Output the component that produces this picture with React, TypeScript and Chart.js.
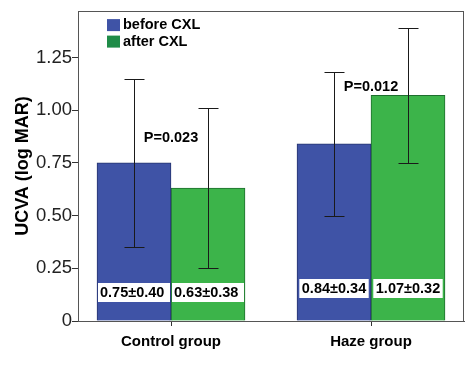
import React, { useEffect, useRef } from "react";
import { Chart, registerables } from "chart.js";

Chart.register(...registerables);

const categories = ["Control group", "Haze group"];
const seriesNames = ["before CXL", "after CXL"];
const beforeMeans = [0.75, 0.84];
const beforeSD = [0.4, 0.34];
const afterMeans = [0.63, 1.07];
const afterSD = [0.38, 0.32];
const pValues = ["P=0.023", "P=0.012"];
const pValueAt = [0.87, 1.11];
const yTicks = [0, 0.25, 0.5, 0.75, 1.0, 1.25];

const BLUE = "#3f53a6";
const GREEN = "#3cb44a";
const FONT = "'Liberation Sans', Arial, sans-serif";

export default function App() {
  const ref = useRef<HTMLCanvasElement | null>(null);

  useEffect(() => {
    document.body.style.margin = "0";
    const canvas = ref.current;
    if (!canvas) return;

    const means = [beforeMeans, afterMeans];
    const sds = [beforeSD, afterSD];

    const overlay = {
      id: "overlay",
      afterDatasetsDraw(chart: any) {
        const ctx = chart.ctx;
        const ys = chart.scales.y;
        const area = chart.chartArea;
        ctx.save();
        // error bars
        ctx.strokeStyle = "#1a1a1a";
        ctx.lineWidth = 1;
        for (let d = 0; d < 2; d++) {
          const meta = chart.getDatasetMeta(d);
          meta.data.forEach((bar: any, j: number) => {
            const x = Math.round(bar.x) + 0.5;
            const top = Math.round(ys.getPixelForValue(means[d][j] + sds[d][j])) + 0.5;
            const bot = Math.round(ys.getPixelForValue(means[d][j] - sds[d][j])) + 0.5;
            ctx.beginPath();
            ctx.moveTo(x, top);
            ctx.lineTo(x, bot);
            ctx.moveTo(x - 10, top);
            ctx.lineTo(x + 10, top);
            ctx.moveTo(x - 10, bot);
            ctx.lineTo(x + 10, bot);
            ctx.stroke();
          });
        }
        // value label boxes
        ctx.font = `bold 14.5px ${FONT}`;
        ctx.textBaseline = "middle";
        ctx.textAlign = "center";
        const boxOffset = [28.5, 32.5];
        for (let d = 0; d < 2; d++) {
          const meta = chart.getDatasetMeta(d);
          meta.data.forEach((bar: any, j: number) => {
            const txt = `${means[d][j].toFixed(2)}±${sds[d][j].toFixed(2)}`;
            const tw = ctx.measureText(txt).width;
            const cy = area.bottom - boxOffset[j];
            let bw: number;
            if (j === 0) bw = bar.width - 2;
            else bw = tw + 5;
            ctx.fillStyle = "#ffffff";
            ctx.fillRect(bar.x - bw / 2, cy - 9.5, bw, 19);
            ctx.fillStyle = "#000000";
            const tx = j === 0 ? bar.x - bw / 2 + 2 + tw / 2 : bar.x;
            ctx.fillText(txt, tx, cy + 0.5);
          });
        }
        // p-values
        const xs = chart.scales.x;
        categories.forEach((_, j) => {
          ctx.fillStyle = "#000";
          ctx.fillText(pValues[j], xs.getPixelForValue(j), ys.getPixelForValue(pValueAt[j]));
        });
        // legend
        const legendColors = [BLUE, "#1f8c48"];
        ctx.textAlign = "left";
        seriesNames.forEach((name, i) => {
          const cy = area.top + 14 + i * 16.5;
          ctx.fillStyle = legendColors[i];
          ctx.fillRect(area.left + 29, cy - 6, 13, 12);
          ctx.fillStyle = "#000";
          ctx.fillText(name, area.left + 45, cy);
        });
        // frame
        ctx.strokeStyle = "#555";
        ctx.lineWidth = 1;
        ctx.strokeRect(
          Math.round(area.left) + 0.5,
          Math.round(area.top) + 0.5,
          Math.round(area.right - area.left) - 1,
          Math.round(area.bottom - area.top)
        );
        ctx.restore();
      },
    };

    const chart = new Chart(canvas, {
      type: "bar",
      data: {
        datasets: [
          {
            label: seriesNames[0],
            data: beforeMeans.map((y, i) => ({ x: i, y })),
            backgroundColor: BLUE,
            borderColor: "#26346e",
            borderWidth: 1,
            barThickness: 74,
          },
          {
            label: seriesNames[1],
            data: afterMeans.map((y, i) => ({ x: i, y })),
            backgroundColor: GREEN,
            borderColor: "#1e6e2e",
            borderWidth: 1,
            barThickness: 74,
          },
        ],
      },
      options: {
        animation: false,
        responsive: true,
        maintainAspectRatio: false,
        layout: { padding: { left: 0, right: 10, top: 9, bottom: 0 } },
        plugins: {
          legend: { display: false },
          tooltip: { enabled: false },
        },
        scales: {
          x: {
            type: "linear",
            min: -0.465,
            max: 1.465,
            offset: false,
            afterBuildTicks: (scale: any) => {
              scale.ticks = categories.map((_, i) => ({ value: i }));
            },
            afterFit: (scale: any) => {
              scale.height = 44;
            },
            grid: {
              display: true,
              offset: false,
              drawOnChartArea: false,
              tickLength: 5,
              color: "#333",
            },
            border: { display: true, color: "#555" },
            ticks: {
              autoSkip: false,
              maxRotation: 0,
              padding: 7,
              color: "#000",
              font: { family: FONT, size: 15, weight: "bold" },
              callback: (v: any) => categories[v] ?? "",
            },
          },
          y: {
            min: 0,
            max: 1.47,
            afterBuildTicks: (scale: any) => {
              scale.ticks = yTicks.map((v) => ({ value: v }));
            },
            afterFit: (scale: any) => {
              scale.width = 78;
            },
            grid: {
              display: true,
              drawOnChartArea: false,
              tickLength: 6,
              color: "#333",
            },
            border: { display: true, color: "#555" },
            ticks: {
              padding: 0,
              color: "#222",
              font: { family: FONT, size: 18.5 },
              callback: (v: any) => (Number(v) === 0 ? "0" : Number(v).toFixed(2)),
            },
            title: {
              display: true,
              text: "UCVA (log MAR)",
              color: "#000",
              font: { family: FONT, size: 18, weight: "bold" },
              padding: { top: 12, bottom: 0 },
            },
          },
        },
      },
      plugins: [overlay],
    });

    return () => chart.destroy();
  }, []);

  return (
    <div style={{ width: 474, height: 365, position: "relative" }}>
      <canvas ref={ref} />
    </div>
  );
}
